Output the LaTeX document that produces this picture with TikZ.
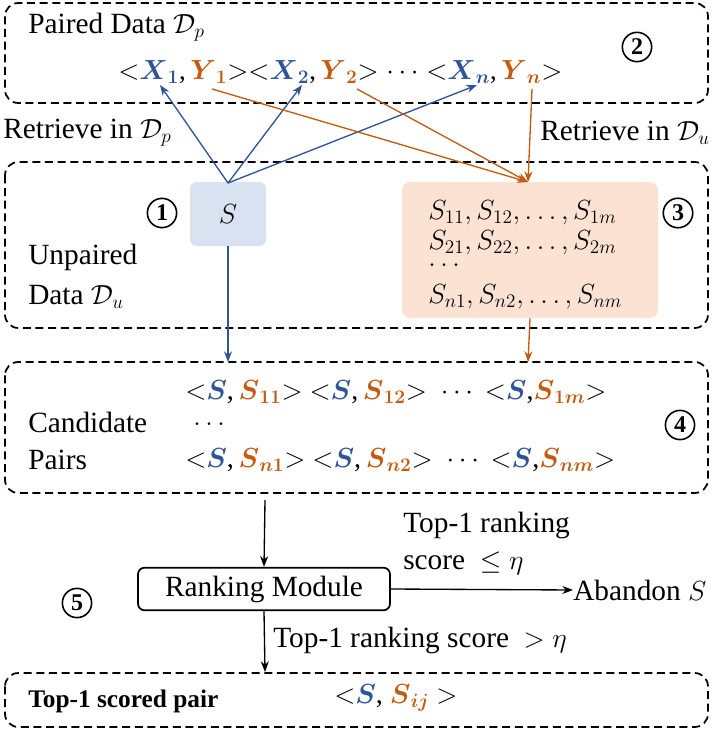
\documentclass[tikz,border=0pt]{standalone}
\usepackage{fontspec}
\setmainfont{Liberation Serif}
\usepackage{amsmath,bm}
\usetikzlibrary{arrows.meta}
\definecolor{bl}{HTML}{2E5597}
\definecolor{orc}{HTML}{C55A11}
\definecolor{bfill}{HTML}{D9E2F1}
\definecolor{ofill}{HTML}{FBE2D3}
\newcommand{\B}[1]{\textcolor{bl}{$\bm{#1}$}}
\newcommand{\Or}[1]{\textcolor{orc}{$\bm{#1}$}}
\begin{document}
\begin{tikzpicture}[x=0.75pt,y=-0.75pt,font=\fontsize{22}{24}\selectfont,
  dbox/.style={draw,dashed,line width=1.3pt,rounded corners=10pt,dash pattern=on 6pt off 3.5pt},
  circ/.style={circle,draw,line width=1.2pt,inner sep=2.5pt,font=\fontsize{18}{18}\selectfont\bfseries},
  ba/.style={draw=bl,line width=1pt,-{Stealth[length=8pt]}},
  oa/.style={draw=orc,line width=1pt,-{Stealth[length=8pt]}},
  ka/.style={draw=black,line width=1pt,-{Stealth[length=8pt]}},
  lbl/.style={anchor=west,inner sep=0pt},
  big/.style={font=\fontsize{21}{23}\selectfont}]
\useasboundingbox (0,0) rectangle (723,731);
\draw[dbox] (5,3) rectangle (708,103);
\draw[dbox] (5,162) rectangle (708,328);
\draw[dbox] (5,362) rectangle (708,493);
\draw[dbox] (5,673) rectangle (708,727);
% box 2
\node[lbl] (pd) at (28,27) {Paired Data $\mathcal{D}_p$};
\node[circ] (c2) at (637,47) {2};
\node[lbl,font=\fontsize{20}{22}\selectfont] (row) at (118,72) {$<$\B{X}\textcolor{bl}{$_{\bm 1}$},\,\Or{Y}\textcolor{orc}{$_{\bm 1}$}$><$\B{X}\textcolor{bl}{$_{\bm 2}$},\,\Or{Y}\textcolor{orc}{$_{\bm 2}$}$>\cdots<$\B{X}\textcolor{bl}{$_{\bm n}$},\,\Or{Y}\textcolor{orc}{$_{\bm n}$}$>$};
\coordinate (x1b) at (160,85);
\coordinate (x2b) at (302,85);
\coordinate (xnb) at (477,85);
\coordinate (y1b) at (212,89);
\coordinate (y2b) at (357,89);
\coordinate (ynb) at (532,89);
\node[lbl] (rp) at (3,133) {Retrieve in $\mathcal{D}_p$};
\node[lbl] (ru) at (540,133) {Retrieve in $\mathcal{D}_u$};
% box 1
\node[draw=none,fill=bfill,rounded corners=5pt,minimum width=57pt,minimum height=48pt] (S) at (228,214) {$S$};
\node[circ] (c1) at (162,213) {1};
\node[lbl] (ud1) at (28,257) {Unpaired};
\node[lbl] (ud2) at (28,297) {Data $\mathcal{D}_u$};
\node[draw=none,fill=ofill,rounded corners=6pt,minimum width=192pt,minimum height=102pt] (SS) at (530,250) {};
\node[lbl,big] (s1) at (428,213) {$S_{11},S_{12},\dots,S_{1m}$};
\node[lbl,big] (s2) at (428,243) {$S_{21},S_{22},\dots,S_{2m}$};
\node[lbl,big] (s3) at (428,265) {$\dots$};
\node[lbl,big] (s4) at (428,297) {$S_{n1},S_{n2},\dots,S_{nm}$};
\node[circ] (c3) at (678,213) {3};
\coordinate (Stop) at (228,183);
\coordinate (SStop) at (528,182);
\draw[ba] (Stop) -- (x1b);
\draw[ba] (Stop) -- (x2b);
\draw[ba] (Stop) -- (xnb);
\draw[oa] (y1b) -- (SStop);
\draw[oa] (y2b) -- (SStop);
\draw[oa] (ynb) -- (SStop);
\coordinate (b4a) at (228,362);
\coordinate (b4b) at (528,362);
\draw[ba] (S.south) -- (b4a);
\draw[oa] (SS.south) -- (b4b);
% box 4
\node[lbl] (cand) at (28,422) {Candidate};
\node[lbl] (pairs) at (28,460) {Pairs};
\node[circ] (c4) at (680,425) {4};
\node[lbl,big] (r1) at (185,392) {$<$\B{S},\,\Or{S}\textcolor{orc}{$_{\bm{11}}$}$>$ $<$\B{S},\,\Or{S}\textcolor{orc}{$_{\bm{12}}$}$>$ \ $\cdots$\ $<$\B{S},\Or{S}\textcolor{orc}{$_{\bm{1m}}$}$>$};
\node[lbl,big] (dd) at (193,424) {$\dots$};
\node[lbl,big] (r2) at (185,460) {$<$\B{S},\,\Or{S}\textcolor{orc}{$_{\bm{n1}}$}$>$ $<$\B{S},\,\Or{S}\textcolor{orc}{$_{\bm{n2}}$}$>$ \ $\cdots$\ $<$\B{S},\Or{S}\textcolor{orc}{$_{\bm{nm}}$}$>$};
% ranking
\coordinate (b4o) at (265,500);
\node[draw,line width=1.3pt,rounded corners=5pt,minimum width=189pt,minimum height=32pt] (rm) at (264,589) {Ranking Module};
\node[circ] (c5) at (77,603) {5};
\node[lbl] (ab) at (573,590) {Abandon $S$};
\node[lbl] (t1a) at (403,525) {Top-1 ranking};
\node[lbl] (t1b) at (403,563) {score \ $\le\eta$};
\node[lbl] (t2) at (273,640) {Top-1 ranking score \ $>\eta$};
\coordinate (bot) at (265,672);
\draw[ka] (b4o) -- (rm.north);
\draw[ka] (rm.east) -- (ab.west);
\draw[ka] (rm.south) -- (bot);
\node[lbl,font=\fontsize{19}{21}\selectfont\bfseries] (tsp) at (28,701) {Top-1 scored pair};
\node[lbl,big] (sij) at (334,698) {$<$\B{S},\ \Or{S}\textcolor{orc}{$_{\bm{ij}}$}\ $>$};
\end{tikzpicture}
\end{document}
